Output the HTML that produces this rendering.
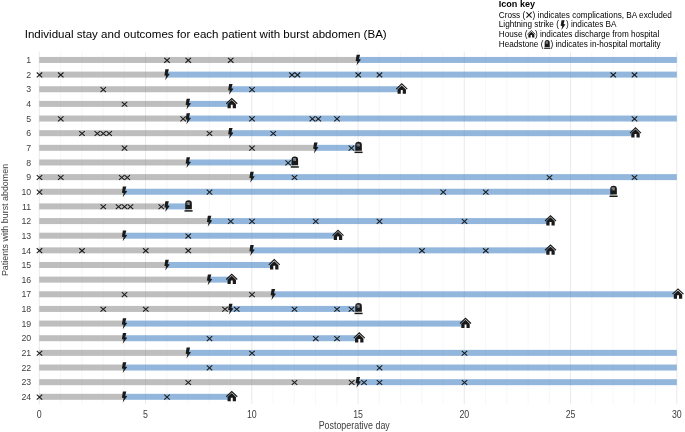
<!DOCTYPE html>
<html><head><meta charset="utf-8"><title>Burst abdomen</title>
<style>
html,body{margin:0;padding:0;background:#fff;}
body{width:685px;height:432px;overflow:hidden;}
svg{display:block;}
text{font-family:"Liberation Sans",Arial,sans-serif;}
</style></head>
<body>
<svg width="685" height="432" viewBox="0 0 685 432">
<rect width="685" height="432" fill="#fff"/>
<line x1="39.3" y1="51.4" x2="39.3" y2="404.3" stroke="#ebebeb" stroke-width="1.07"/>
<line x1="60.55" y1="51.4" x2="60.55" y2="404.3" stroke="#efefef" stroke-width="0.53"/>
<line x1="81.8" y1="51.4" x2="81.8" y2="404.3" stroke="#efefef" stroke-width="0.53"/>
<line x1="103.05" y1="51.4" x2="103.05" y2="404.3" stroke="#efefef" stroke-width="0.53"/>
<line x1="124.3" y1="51.4" x2="124.3" y2="404.3" stroke="#efefef" stroke-width="0.53"/>
<line x1="145.55" y1="51.4" x2="145.55" y2="404.3" stroke="#ebebeb" stroke-width="1.07"/>
<line x1="166.8" y1="51.4" x2="166.8" y2="404.3" stroke="#efefef" stroke-width="0.53"/>
<line x1="188.05" y1="51.4" x2="188.05" y2="404.3" stroke="#efefef" stroke-width="0.53"/>
<line x1="209.3" y1="51.4" x2="209.3" y2="404.3" stroke="#efefef" stroke-width="0.53"/>
<line x1="230.55" y1="51.4" x2="230.55" y2="404.3" stroke="#efefef" stroke-width="0.53"/>
<line x1="251.8" y1="51.4" x2="251.8" y2="404.3" stroke="#ebebeb" stroke-width="1.07"/>
<line x1="273.05" y1="51.4" x2="273.05" y2="404.3" stroke="#efefef" stroke-width="0.53"/>
<line x1="294.3" y1="51.4" x2="294.3" y2="404.3" stroke="#efefef" stroke-width="0.53"/>
<line x1="315.55" y1="51.4" x2="315.55" y2="404.3" stroke="#efefef" stroke-width="0.53"/>
<line x1="336.8" y1="51.4" x2="336.8" y2="404.3" stroke="#efefef" stroke-width="0.53"/>
<line x1="358.05" y1="51.4" x2="358.05" y2="404.3" stroke="#ebebeb" stroke-width="1.07"/>
<line x1="379.3" y1="51.4" x2="379.3" y2="404.3" stroke="#efefef" stroke-width="0.53"/>
<line x1="400.55" y1="51.4" x2="400.55" y2="404.3" stroke="#efefef" stroke-width="0.53"/>
<line x1="421.8" y1="51.4" x2="421.8" y2="404.3" stroke="#efefef" stroke-width="0.53"/>
<line x1="443.05" y1="51.4" x2="443.05" y2="404.3" stroke="#efefef" stroke-width="0.53"/>
<line x1="464.3" y1="51.4" x2="464.3" y2="404.3" stroke="#ebebeb" stroke-width="1.07"/>
<line x1="485.55" y1="51.4" x2="485.55" y2="404.3" stroke="#efefef" stroke-width="0.53"/>
<line x1="506.8" y1="51.4" x2="506.8" y2="404.3" stroke="#efefef" stroke-width="0.53"/>
<line x1="528.05" y1="51.4" x2="528.05" y2="404.3" stroke="#efefef" stroke-width="0.53"/>
<line x1="549.3" y1="51.4" x2="549.3" y2="404.3" stroke="#efefef" stroke-width="0.53"/>
<line x1="570.55" y1="51.4" x2="570.55" y2="404.3" stroke="#ebebeb" stroke-width="1.07"/>
<line x1="591.8" y1="51.4" x2="591.8" y2="404.3" stroke="#efefef" stroke-width="0.53"/>
<line x1="613.05" y1="51.4" x2="613.05" y2="404.3" stroke="#efefef" stroke-width="0.53"/>
<line x1="634.3" y1="51.4" x2="634.3" y2="404.3" stroke="#efefef" stroke-width="0.53"/>
<line x1="655.55" y1="51.4" x2="655.55" y2="404.3" stroke="#efefef" stroke-width="0.53"/>
<line x1="676.8" y1="51.4" x2="676.8" y2="404.3" stroke="#ebebeb" stroke-width="1.07"/>
<rect x="39.3" y="56.95" width="318.75" height="6" fill="#7d7d7d" fill-opacity="0.5"/>
<rect x="358.05" y="56.95" width="318.75" height="6" fill="#4b87c5" fill-opacity="0.6"/>
<rect x="39.3" y="71.6" width="127.5" height="6" fill="#7d7d7d" fill-opacity="0.5"/>
<rect x="166.8" y="71.6" width="510" height="6" fill="#4b87c5" fill-opacity="0.6"/>
<rect x="39.3" y="86.24" width="191.25" height="6" fill="#7d7d7d" fill-opacity="0.5"/>
<rect x="230.55" y="86.24" width="170" height="6" fill="#4b87c5" fill-opacity="0.6"/>
<rect x="39.3" y="100.89" width="148.75" height="6" fill="#7d7d7d" fill-opacity="0.5"/>
<rect x="188.05" y="100.89" width="42.5" height="6" fill="#4b87c5" fill-opacity="0.6"/>
<rect x="39.3" y="115.53" width="148.75" height="6" fill="#7d7d7d" fill-opacity="0.5"/>
<rect x="188.05" y="115.53" width="488.75" height="6" fill="#4b87c5" fill-opacity="0.6"/>
<rect x="39.3" y="130.18" width="191.25" height="6" fill="#7d7d7d" fill-opacity="0.5"/>
<rect x="230.55" y="130.18" width="403.75" height="6" fill="#4b87c5" fill-opacity="0.6"/>
<rect x="39.3" y="144.83" width="276.25" height="6" fill="#7d7d7d" fill-opacity="0.5"/>
<rect x="315.55" y="144.83" width="42.5" height="6" fill="#4b87c5" fill-opacity="0.6"/>
<rect x="39.3" y="159.47" width="148.75" height="6" fill="#7d7d7d" fill-opacity="0.5"/>
<rect x="188.05" y="159.47" width="106.25" height="6" fill="#4b87c5" fill-opacity="0.6"/>
<rect x="39.3" y="174.12" width="212.5" height="6" fill="#7d7d7d" fill-opacity="0.5"/>
<rect x="251.8" y="174.12" width="425" height="6" fill="#4b87c5" fill-opacity="0.6"/>
<rect x="39.3" y="188.76" width="85" height="6" fill="#7d7d7d" fill-opacity="0.5"/>
<rect x="124.3" y="188.76" width="488.75" height="6" fill="#4b87c5" fill-opacity="0.6"/>
<rect x="39.3" y="203.41" width="127.5" height="6" fill="#7d7d7d" fill-opacity="0.5"/>
<rect x="166.8" y="203.41" width="21.25" height="6" fill="#4b87c5" fill-opacity="0.6"/>
<rect x="39.3" y="218.06" width="170" height="6" fill="#7d7d7d" fill-opacity="0.5"/>
<rect x="209.3" y="218.06" width="340" height="6" fill="#4b87c5" fill-opacity="0.6"/>
<rect x="39.3" y="232.7" width="85" height="6" fill="#7d7d7d" fill-opacity="0.5"/>
<rect x="124.3" y="232.7" width="212.5" height="6" fill="#4b87c5" fill-opacity="0.6"/>
<rect x="39.3" y="247.35" width="212.5" height="6" fill="#7d7d7d" fill-opacity="0.5"/>
<rect x="251.8" y="247.35" width="297.5" height="6" fill="#4b87c5" fill-opacity="0.6"/>
<rect x="39.3" y="261.99" width="127.5" height="6" fill="#7d7d7d" fill-opacity="0.5"/>
<rect x="166.8" y="261.99" width="106.25" height="6" fill="#4b87c5" fill-opacity="0.6"/>
<rect x="39.3" y="276.64" width="170" height="6" fill="#7d7d7d" fill-opacity="0.5"/>
<rect x="209.3" y="276.64" width="21.25" height="6" fill="#4b87c5" fill-opacity="0.6"/>
<rect x="39.3" y="291.29" width="233.75" height="6" fill="#7d7d7d" fill-opacity="0.5"/>
<rect x="273.05" y="291.29" width="403.75" height="6" fill="#4b87c5" fill-opacity="0.6"/>
<rect x="39.3" y="305.93" width="191.25" height="6" fill="#7d7d7d" fill-opacity="0.5"/>
<rect x="230.55" y="305.93" width="127.5" height="6" fill="#4b87c5" fill-opacity="0.6"/>
<rect x="39.3" y="320.58" width="85" height="6" fill="#7d7d7d" fill-opacity="0.5"/>
<rect x="124.3" y="320.58" width="340" height="6" fill="#4b87c5" fill-opacity="0.6"/>
<rect x="39.3" y="335.22" width="85" height="6" fill="#7d7d7d" fill-opacity="0.5"/>
<rect x="124.3" y="335.22" width="233.75" height="6" fill="#4b87c5" fill-opacity="0.6"/>
<rect x="39.3" y="349.87" width="148.75" height="6" fill="#7d7d7d" fill-opacity="0.5"/>
<rect x="188.05" y="349.87" width="488.75" height="6" fill="#4b87c5" fill-opacity="0.6"/>
<rect x="39.3" y="364.52" width="85" height="6" fill="#7d7d7d" fill-opacity="0.5"/>
<rect x="124.3" y="364.52" width="552.5" height="6" fill="#4b87c5" fill-opacity="0.6"/>
<rect x="39.3" y="379.16" width="318.75" height="6" fill="#7d7d7d" fill-opacity="0.5"/>
<rect x="358.05" y="379.16" width="318.75" height="6" fill="#4b87c5" fill-opacity="0.6"/>
<rect x="39.3" y="393.81" width="85" height="6" fill="#7d7d7d" fill-opacity="0.5"/>
<rect x="124.3" y="393.81" width="106.25" height="6" fill="#4b87c5" fill-opacity="0.6"/>
<path d="M164.25 57.85L169.75 62.75M164.25 62.75L169.75 57.85" stroke="#1a1a1a" stroke-width="1.05" fill="none"/>
<path d="M185.5 57.85L191 62.75M185.5 62.75L191 57.85" stroke="#1a1a1a" stroke-width="1.05" fill="none"/>
<path d="M228 57.85L233.5 62.75M228 62.75L233.5 57.85" stroke="#1a1a1a" stroke-width="1.05" fill="none"/>
<polygon points="356.6,54.7 360.1,54.7 358.95,58.9 360.95,59.45 356.45,65.55 357.4,61.2 355.65,60.9" fill="#1a1a1a"/>
<path d="M36.75 72.5L42.25 77.4M36.75 77.4L42.25 72.5" stroke="#1a1a1a" stroke-width="1.05" fill="none"/>
<path d="M58 72.5L63.5 77.4M58 77.4L63.5 72.5" stroke="#1a1a1a" stroke-width="1.05" fill="none"/>
<path d="M289.2 72.5L294.7 77.4M289.2 77.4L294.7 72.5" stroke="#1a1a1a" stroke-width="1.05" fill="none"/>
<path d="M294.73 72.5L300.23 77.4M294.73 77.4L300.23 72.5" stroke="#1a1a1a" stroke-width="1.05" fill="none"/>
<path d="M355.5 72.5L361 77.4M355.5 77.4L361 72.5" stroke="#1a1a1a" stroke-width="1.05" fill="none"/>
<path d="M376.75 72.5L382.25 77.4M376.75 77.4L382.25 72.5" stroke="#1a1a1a" stroke-width="1.05" fill="none"/>
<path d="M610.5 72.5L616 77.4M610.5 77.4L616 72.5" stroke="#1a1a1a" stroke-width="1.05" fill="none"/>
<path d="M631.75 72.5L637.25 77.4M631.75 77.4L637.25 72.5" stroke="#1a1a1a" stroke-width="1.05" fill="none"/>
<polygon points="165.35,69.35 168.85,69.35 167.7,73.55 169.7,74.1 165.2,80.2 166.15,75.85 164.4,75.55" fill="#1a1a1a"/>
<path d="M100.5 87.14L106 92.04M100.5 92.04L106 87.14" stroke="#1a1a1a" stroke-width="1.05" fill="none"/>
<path d="M249.25 87.14L254.75 92.04M249.25 92.04L254.75 87.14" stroke="#1a1a1a" stroke-width="1.05" fill="none"/>
<polygon points="229.1,83.99 232.6,83.99 231.45,88.19 233.45,88.74 228.95,94.84 229.9,90.49 228.15,90.19" fill="#1a1a1a"/>
<path d="M396.25 89.14L401.75 83.89L407.25 89.14" stroke="#1a1a1a" stroke-width="1.15" fill="none"/><path d="M397.55 93.64L397.55 89.4L401.75 85.39L405.95 89.4L405.95 93.64L402.75 93.64L402.75 90.09L400.75 90.09L400.75 93.64Z" fill="#1a1a1a"/>
<path d="M121.75 101.79L127.25 106.69M121.75 106.69L127.25 101.79" stroke="#1a1a1a" stroke-width="1.05" fill="none"/>
<polygon points="186.6,98.64 190.1,98.64 188.95,102.84 190.95,103.39 186.45,109.49 187.4,105.14 185.65,104.84" fill="#1a1a1a"/>
<path d="M226.25 103.79L231.75 98.54L237.25 103.79" stroke="#1a1a1a" stroke-width="1.15" fill="none"/><path d="M227.55 108.29L227.55 104.05L231.75 100.04L235.95 104.05L235.95 108.29L232.75 108.29L232.75 104.74L230.75 104.74L230.75 108.29Z" fill="#1a1a1a"/>
<path d="M58 116.43L63.5 121.33M58 121.33L63.5 116.43" stroke="#1a1a1a" stroke-width="1.05" fill="none"/>
<path d="M180.4 116.43L185.9 121.33M180.4 121.33L185.9 116.43" stroke="#1a1a1a" stroke-width="1.05" fill="none"/>
<path d="M249.25 116.43L254.75 121.33M249.25 121.33L254.75 116.43" stroke="#1a1a1a" stroke-width="1.05" fill="none"/>
<path d="M309.6 116.43L315.1 121.33M309.6 121.33L315.1 116.43" stroke="#1a1a1a" stroke-width="1.05" fill="none"/>
<path d="M315.55 116.43L321.05 121.33M315.55 121.33L321.05 116.43" stroke="#1a1a1a" stroke-width="1.05" fill="none"/>
<path d="M334.25 116.43L339.75 121.33M334.25 121.33L339.75 116.43" stroke="#1a1a1a" stroke-width="1.05" fill="none"/>
<path d="M631.75 116.43L637.25 121.33M631.75 121.33L637.25 116.43" stroke="#1a1a1a" stroke-width="1.05" fill="none"/>
<polygon points="186.6,113.28 190.1,113.28 188.95,117.48 190.95,118.03 186.45,124.13 187.4,119.78 185.65,119.48" fill="#1a1a1a"/>
<path d="M79.25 131.08L84.75 135.98M79.25 135.98L84.75 131.08" stroke="#1a1a1a" stroke-width="1.05" fill="none"/>
<path d="M94.55 131.08L100.05 135.98M94.55 135.98L100.05 131.08" stroke="#1a1a1a" stroke-width="1.05" fill="none"/>
<path d="M100.5 131.08L106 135.98M100.5 135.98L106 131.08" stroke="#1a1a1a" stroke-width="1.05" fill="none"/>
<path d="M106.45 131.08L111.95 135.98M106.45 135.98L111.95 131.08" stroke="#1a1a1a" stroke-width="1.05" fill="none"/>
<path d="M206.75 131.08L212.25 135.98M206.75 135.98L212.25 131.08" stroke="#1a1a1a" stroke-width="1.05" fill="none"/>
<path d="M270.5 131.08L276 135.98M270.5 135.98L276 131.08" stroke="#1a1a1a" stroke-width="1.05" fill="none"/>
<polygon points="229.1,127.93 232.6,127.93 231.45,132.13 233.45,132.68 228.95,138.78 229.9,134.43 228.15,134.13" fill="#1a1a1a"/>
<path d="M630 133.08L635.5 127.83L641 133.08" stroke="#1a1a1a" stroke-width="1.15" fill="none"/><path d="M631.3 137.58L631.3 133.34L635.5 129.33L639.7 133.34L639.7 137.58L636.5 137.58L636.5 134.03L634.5 134.03L634.5 137.58Z" fill="#1a1a1a"/>
<path d="M121.75 145.73L127.25 150.63M121.75 150.63L127.25 145.73" stroke="#1a1a1a" stroke-width="1.05" fill="none"/>
<path d="M249.25 145.73L254.75 150.63M249.25 150.63L254.75 145.73" stroke="#1a1a1a" stroke-width="1.05" fill="none"/>
<path d="M348.7 145.73L354.2 150.63M348.7 150.63L354.2 145.73" stroke="#1a1a1a" stroke-width="1.05" fill="none"/>
<polygon points="314.1,142.58 317.6,142.58 316.45,146.78 318.45,147.33 313.95,153.43 314.9,149.08 313.15,148.78" fill="#1a1a1a"/>
<path fill-rule="evenodd" d="M355.25 150.63L355.25 145.08A3.3 3.3 0 0 1 361.85 145.08L361.85 150.63ZM356.75 143.63L359.55 143.63L359.55 146.33L356.75 146.33Z" fill="#1a1a1a"/><rect x="356.75" y="143.63" width="2.8" height="2.7" fill="#1a1a1a" fill-opacity="0.55"/><rect x="354.5" y="151.58" width="8.1" height="1.5" fill="#1a1a1a"/>
<path d="M285.37 160.37L290.87 165.27M285.37 165.27L290.87 160.37" stroke="#1a1a1a" stroke-width="1.05" fill="none"/>
<polygon points="186.6,157.22 190.1,157.22 188.95,161.42 190.95,161.97 186.45,168.07 187.4,163.72 185.65,163.42" fill="#1a1a1a"/>
<path fill-rule="evenodd" d="M291.5 165.27L291.5 159.72A3.3 3.3 0 0 1 298.1 159.72L298.1 165.27ZM293 158.27L295.8 158.27L295.8 160.97L293 160.97Z" fill="#1a1a1a"/><rect x="293" y="158.27" width="2.8" height="2.7" fill="#1a1a1a" fill-opacity="0.55"/><rect x="290.75" y="166.22" width="8.1" height="1.5" fill="#1a1a1a"/>
<path d="M36.75 175.02L42.25 179.92M36.75 179.92L42.25 175.02" stroke="#1a1a1a" stroke-width="1.05" fill="none"/>
<path d="M58 175.02L63.5 179.92M58 179.92L63.5 175.02" stroke="#1a1a1a" stroke-width="1.05" fill="none"/>
<path d="M118.99 175.02L124.49 179.92M118.99 179.92L124.49 175.02" stroke="#1a1a1a" stroke-width="1.05" fill="none"/>
<path d="M124.51 175.02L130.01 179.92M124.51 179.92L130.01 175.02" stroke="#1a1a1a" stroke-width="1.05" fill="none"/>
<path d="M291.75 175.02L297.25 179.92M291.75 179.92L297.25 175.02" stroke="#1a1a1a" stroke-width="1.05" fill="none"/>
<path d="M546.75 175.02L552.25 179.92M546.75 179.92L552.25 175.02" stroke="#1a1a1a" stroke-width="1.05" fill="none"/>
<path d="M631.75 175.02L637.25 179.92M631.75 179.92L637.25 175.02" stroke="#1a1a1a" stroke-width="1.05" fill="none"/>
<polygon points="250.35,171.87 253.85,171.87 252.7,176.07 254.7,176.62 250.2,182.72 251.15,178.37 249.4,178.07" fill="#1a1a1a"/>
<path d="M36.75 189.66L42.25 194.56M36.75 194.56L42.25 189.66" stroke="#1a1a1a" stroke-width="1.05" fill="none"/>
<path d="M206.75 189.66L212.25 194.56M206.75 194.56L212.25 189.66" stroke="#1a1a1a" stroke-width="1.05" fill="none"/>
<path d="M440.5 189.66L446 194.56M440.5 194.56L446 189.66" stroke="#1a1a1a" stroke-width="1.05" fill="none"/>
<path d="M483 189.66L488.5 194.56M483 194.56L488.5 189.66" stroke="#1a1a1a" stroke-width="1.05" fill="none"/>
<polygon points="122.85,186.51 126.35,186.51 125.2,190.71 127.2,191.26 122.7,197.36 123.65,193.01 121.9,192.71" fill="#1a1a1a"/>
<path fill-rule="evenodd" d="M610.25 194.56L610.25 189.01A3.3 3.3 0 0 1 616.85 189.01L616.85 194.56ZM611.75 187.56L614.55 187.56L614.55 190.26L611.75 190.26Z" fill="#1a1a1a"/><rect x="611.75" y="187.56" width="2.8" height="2.7" fill="#1a1a1a" fill-opacity="0.55"/><rect x="609.5" y="195.51" width="8.1" height="1.5" fill="#1a1a1a"/>
<path d="M100.5 204.31L106 209.21M100.5 209.21L106 204.31" stroke="#1a1a1a" stroke-width="1.05" fill="none"/>
<path d="M115.8 204.31L121.3 209.21M115.8 209.21L121.3 204.31" stroke="#1a1a1a" stroke-width="1.05" fill="none"/>
<path d="M121.75 204.31L127.25 209.21M121.75 209.21L127.25 204.31" stroke="#1a1a1a" stroke-width="1.05" fill="none"/>
<path d="M127.7 204.31L133.2 209.21M127.7 209.21L133.2 204.31" stroke="#1a1a1a" stroke-width="1.05" fill="none"/>
<path d="M158.51 204.31L164.01 209.21M158.51 209.21L164.01 204.31" stroke="#1a1a1a" stroke-width="1.05" fill="none"/>
<polygon points="165.35,201.16 168.85,201.16 167.7,205.36 169.7,205.91 165.2,212.01 166.15,207.66 164.4,207.36" fill="#1a1a1a"/>
<path fill-rule="evenodd" d="M185.25 209.21L185.25 203.66A3.3 3.3 0 0 1 191.85 203.66L191.85 209.21ZM186.75 202.21L189.55 202.21L189.55 204.91L186.75 204.91Z" fill="#1a1a1a"/><rect x="186.75" y="202.21" width="2.8" height="2.7" fill="#1a1a1a" fill-opacity="0.55"/><rect x="184.5" y="210.16" width="8.1" height="1.5" fill="#1a1a1a"/>
<path d="M228 218.96L233.5 223.86M228 223.86L233.5 218.96" stroke="#1a1a1a" stroke-width="1.05" fill="none"/>
<path d="M249.25 218.96L254.75 223.86M249.25 223.86L254.75 218.96" stroke="#1a1a1a" stroke-width="1.05" fill="none"/>
<path d="M313 218.96L318.5 223.86M313 223.86L318.5 218.96" stroke="#1a1a1a" stroke-width="1.05" fill="none"/>
<path d="M376.75 218.96L382.25 223.86M376.75 223.86L382.25 218.96" stroke="#1a1a1a" stroke-width="1.05" fill="none"/>
<path d="M461.75 218.96L467.25 223.86M461.75 223.86L467.25 218.96" stroke="#1a1a1a" stroke-width="1.05" fill="none"/>
<polygon points="207.85,215.81 211.35,215.81 210.2,220.01 212.2,220.56 207.7,226.66 208.65,222.31 206.9,222.01" fill="#1a1a1a"/>
<path d="M545 220.96L550.5 215.71L556 220.96" stroke="#1a1a1a" stroke-width="1.15" fill="none"/><path d="M546.3 225.46L546.3 221.22L550.5 217.21L554.7 221.22L554.7 225.46L551.5 225.46L551.5 221.91L549.5 221.91L549.5 225.46Z" fill="#1a1a1a"/>
<path d="M185.5 233.6L191 238.5M185.5 238.5L191 233.6" stroke="#1a1a1a" stroke-width="1.05" fill="none"/>
<polygon points="122.85,230.45 126.35,230.45 125.2,234.65 127.2,235.2 122.7,241.3 123.65,236.95 121.9,236.65" fill="#1a1a1a"/>
<path d="M332.5 235.6L338 230.35L343.5 235.6" stroke="#1a1a1a" stroke-width="1.15" fill="none"/><path d="M333.8 240.1L333.8 235.86L338 231.85L342.2 235.86L342.2 240.1L339 240.1L339 236.55L337 236.55L337 240.1Z" fill="#1a1a1a"/>
<path d="M36.75 248.25L42.25 253.15M36.75 253.15L42.25 248.25" stroke="#1a1a1a" stroke-width="1.05" fill="none"/>
<path d="M79.25 248.25L84.75 253.15M79.25 253.15L84.75 248.25" stroke="#1a1a1a" stroke-width="1.05" fill="none"/>
<path d="M143 248.25L148.5 253.15M143 253.15L148.5 248.25" stroke="#1a1a1a" stroke-width="1.05" fill="none"/>
<path d="M185.5 248.25L191 253.15M185.5 253.15L191 248.25" stroke="#1a1a1a" stroke-width="1.05" fill="none"/>
<path d="M419.25 248.25L424.75 253.15M419.25 253.15L424.75 248.25" stroke="#1a1a1a" stroke-width="1.05" fill="none"/>
<path d="M483 248.25L488.5 253.15M483 253.15L488.5 248.25" stroke="#1a1a1a" stroke-width="1.05" fill="none"/>
<polygon points="250.35,245.1 253.85,245.1 252.7,249.3 254.7,249.85 250.2,255.95 251.15,251.6 249.4,251.3" fill="#1a1a1a"/>
<path d="M545 250.25L550.5 245L556 250.25" stroke="#1a1a1a" stroke-width="1.15" fill="none"/><path d="M546.3 254.75L546.3 250.51L550.5 246.5L554.7 250.51L554.7 254.75L551.5 254.75L551.5 251.2L549.5 251.2L549.5 254.75Z" fill="#1a1a1a"/>
<polygon points="165.35,259.74 168.85,259.74 167.7,263.94 169.7,264.49 165.2,270.59 166.15,266.24 164.4,265.94" fill="#1a1a1a"/>
<path d="M268.75 264.89L274.25 259.64L279.75 264.89" stroke="#1a1a1a" stroke-width="1.15" fill="none"/><path d="M270.05 269.39L270.05 265.15L274.25 261.14L278.45 265.15L278.45 269.39L275.25 269.39L275.25 265.84L273.25 265.84L273.25 269.39Z" fill="#1a1a1a"/>
<polygon points="207.85,274.39 211.35,274.39 210.2,278.59 212.2,279.14 207.7,285.24 208.65,280.89 206.9,280.59" fill="#1a1a1a"/>
<path d="M226.25 279.54L231.75 274.29L237.25 279.54" stroke="#1a1a1a" stroke-width="1.15" fill="none"/><path d="M227.55 284.04L227.55 279.8L231.75 275.79L235.95 279.8L235.95 284.04L232.75 284.04L232.75 280.49L230.75 280.49L230.75 284.04Z" fill="#1a1a1a"/>
<path d="M121.75 292.19L127.25 297.09M121.75 297.09L127.25 292.19" stroke="#1a1a1a" stroke-width="1.05" fill="none"/>
<path d="M249.25 292.19L254.75 297.09M249.25 297.09L254.75 292.19" stroke="#1a1a1a" stroke-width="1.05" fill="none"/>
<polygon points="271.6,289.04 275.1,289.04 273.95,293.24 275.95,293.79 271.45,299.89 272.4,295.54 270.65,295.24" fill="#1a1a1a"/>
<path d="M672.5 294.19L678 288.94L683.5 294.19" stroke="#1a1a1a" stroke-width="1.15" fill="none"/><path d="M673.8 298.69L673.8 294.45L678 290.44L682.2 294.45L682.2 298.69L679 298.69L679 295.14L677 295.14L677 298.69Z" fill="#1a1a1a"/>
<path d="M100.5 306.83L106 311.73M100.5 311.73L106 306.83" stroke="#1a1a1a" stroke-width="1.05" fill="none"/>
<path d="M143 306.83L148.5 311.73M143 311.73L148.5 306.83" stroke="#1a1a1a" stroke-width="1.05" fill="none"/>
<path d="M222.26 306.83L227.76 311.73M222.26 311.73L227.76 306.83" stroke="#1a1a1a" stroke-width="1.05" fill="none"/>
<path d="M233.95 306.83L239.45 311.73M233.95 311.73L239.45 306.83" stroke="#1a1a1a" stroke-width="1.05" fill="none"/>
<path d="M291.75 306.83L297.25 311.73M291.75 311.73L297.25 306.83" stroke="#1a1a1a" stroke-width="1.05" fill="none"/>
<path d="M334.25 306.83L339.75 311.73M334.25 311.73L339.75 306.83" stroke="#1a1a1a" stroke-width="1.05" fill="none"/>
<path d="M348.7 306.83L354.2 311.73M348.7 311.73L354.2 306.83" stroke="#1a1a1a" stroke-width="1.05" fill="none"/>
<polygon points="229.1,303.68 232.6,303.68 231.45,307.88 233.45,308.43 228.95,314.53 229.9,310.18 228.15,309.88" fill="#1a1a1a"/>
<path fill-rule="evenodd" d="M355.25 311.73L355.25 306.18A3.3 3.3 0 0 1 361.85 306.18L361.85 311.73ZM356.75 304.73L359.55 304.73L359.55 307.43L356.75 307.43Z" fill="#1a1a1a"/><rect x="356.75" y="304.73" width="2.8" height="2.7" fill="#1a1a1a" fill-opacity="0.55"/><rect x="354.5" y="312.68" width="8.1" height="1.5" fill="#1a1a1a"/>
<polygon points="122.85,318.33 126.35,318.33 125.2,322.53 127.2,323.08 122.7,329.18 123.65,324.83 121.9,324.53" fill="#1a1a1a"/>
<path d="M460 323.48L465.5 318.23L471 323.48" stroke="#1a1a1a" stroke-width="1.15" fill="none"/><path d="M461.3 327.98L461.3 323.74L465.5 319.73L469.7 323.74L469.7 327.98L466.5 327.98L466.5 324.43L464.5 324.43L464.5 327.98Z" fill="#1a1a1a"/>
<path d="M206.75 336.12L212.25 341.02M206.75 341.02L212.25 336.12" stroke="#1a1a1a" stroke-width="1.05" fill="none"/>
<path d="M313 336.12L318.5 341.02M313 341.02L318.5 336.12" stroke="#1a1a1a" stroke-width="1.05" fill="none"/>
<path d="M334.25 336.12L339.75 341.02M334.25 341.02L339.75 336.12" stroke="#1a1a1a" stroke-width="1.05" fill="none"/>
<polygon points="122.85,332.97 126.35,332.97 125.2,337.17 127.2,337.72 122.7,343.82 123.65,339.47 121.9,339.17" fill="#1a1a1a"/>
<path d="M353.75 338.12L359.25 332.87L364.75 338.12" stroke="#1a1a1a" stroke-width="1.15" fill="none"/><path d="M355.05 342.62L355.05 338.38L359.25 334.37L363.45 338.38L363.45 342.62L360.25 342.62L360.25 339.07L358.25 339.07L358.25 342.62Z" fill="#1a1a1a"/>
<path d="M36.75 350.77L42.25 355.67M36.75 355.67L42.25 350.77" stroke="#1a1a1a" stroke-width="1.05" fill="none"/>
<path d="M249.25 350.77L254.75 355.67M249.25 355.67L254.75 350.77" stroke="#1a1a1a" stroke-width="1.05" fill="none"/>
<path d="M461.75 350.77L467.25 355.67M461.75 355.67L467.25 350.77" stroke="#1a1a1a" stroke-width="1.05" fill="none"/>
<polygon points="186.6,347.62 190.1,347.62 188.95,351.82 190.95,352.37 186.45,358.47 187.4,354.12 185.65,353.82" fill="#1a1a1a"/>
<path d="M206.75 365.42L212.25 370.32M206.75 370.32L212.25 365.42" stroke="#1a1a1a" stroke-width="1.05" fill="none"/>
<path d="M376.75 365.42L382.25 370.32M376.75 370.32L382.25 365.42" stroke="#1a1a1a" stroke-width="1.05" fill="none"/>
<polygon points="122.85,362.27 126.35,362.27 125.2,366.47 127.2,367.02 122.7,373.12 123.65,368.77 121.9,368.47" fill="#1a1a1a"/>
<path d="M185.5 380.06L191 384.96M185.5 384.96L191 380.06" stroke="#1a1a1a" stroke-width="1.05" fill="none"/>
<path d="M291.75 380.06L297.25 384.96M291.75 384.96L297.25 380.06" stroke="#1a1a1a" stroke-width="1.05" fill="none"/>
<path d="M348.91 380.06L354.41 384.96M348.91 384.96L354.41 380.06" stroke="#1a1a1a" stroke-width="1.05" fill="none"/>
<path d="M361.24 380.06L366.74 384.96M361.24 384.96L366.74 380.06" stroke="#1a1a1a" stroke-width="1.05" fill="none"/>
<path d="M376.75 380.06L382.25 384.96M376.75 384.96L382.25 380.06" stroke="#1a1a1a" stroke-width="1.05" fill="none"/>
<path d="M461.75 380.06L467.25 384.96M461.75 384.96L467.25 380.06" stroke="#1a1a1a" stroke-width="1.05" fill="none"/>
<polygon points="356.6,376.91 360.1,376.91 358.95,381.11 360.95,381.66 356.45,387.76 357.4,383.41 355.65,383.11" fill="#1a1a1a"/>
<path d="M36.75 394.71L42.25 399.61M36.75 399.61L42.25 394.71" stroke="#1a1a1a" stroke-width="1.05" fill="none"/>
<path d="M164.25 394.71L169.75 399.61M164.25 399.61L169.75 394.71" stroke="#1a1a1a" stroke-width="1.05" fill="none"/>
<polygon points="122.85,391.56 126.35,391.56 125.2,395.76 127.2,396.31 122.7,402.41 123.65,398.06 121.9,397.76" fill="#1a1a1a"/>
<path d="M226.25 396.71L231.75 391.46L237.25 396.71" stroke="#1a1a1a" stroke-width="1.15" fill="none"/><path d="M227.55 401.21L227.55 396.97L231.75 392.96L235.95 396.97L235.95 401.21L232.75 401.21L232.75 397.66L230.75 397.66L230.75 401.21Z" fill="#1a1a1a"/>
<text transform="translate(31.2,63.1) scale(1,1.1)" text-anchor="end" font-size="8.8" fill="#404040">1</text>
<text transform="translate(31.2,77.75) scale(1,1.1)" text-anchor="end" font-size="8.8" fill="#404040">2</text>
<text transform="translate(31.2,92.39) scale(1,1.1)" text-anchor="end" font-size="8.8" fill="#404040">3</text>
<text transform="translate(31.2,107.04) scale(1,1.1)" text-anchor="end" font-size="8.8" fill="#404040">4</text>
<text transform="translate(31.2,121.68) scale(1,1.1)" text-anchor="end" font-size="8.8" fill="#404040">5</text>
<text transform="translate(31.2,136.33) scale(1,1.1)" text-anchor="end" font-size="8.8" fill="#404040">6</text>
<text transform="translate(31.2,150.98) scale(1,1.1)" text-anchor="end" font-size="8.8" fill="#404040">7</text>
<text transform="translate(31.2,165.62) scale(1,1.1)" text-anchor="end" font-size="8.8" fill="#404040">8</text>
<text transform="translate(31.2,180.27) scale(1,1.1)" text-anchor="end" font-size="8.8" fill="#404040">9</text>
<text transform="translate(31.2,194.91) scale(1,1.1)" text-anchor="end" font-size="8.8" fill="#404040">10</text>
<text transform="translate(31.2,209.56) scale(1,1.1)" text-anchor="end" font-size="8.8" fill="#404040">11</text>
<text transform="translate(31.2,224.21) scale(1,1.1)" text-anchor="end" font-size="8.8" fill="#404040">12</text>
<text transform="translate(31.2,238.85) scale(1,1.1)" text-anchor="end" font-size="8.8" fill="#404040">13</text>
<text transform="translate(31.2,253.5) scale(1,1.1)" text-anchor="end" font-size="8.8" fill="#404040">14</text>
<text transform="translate(31.2,268.14) scale(1,1.1)" text-anchor="end" font-size="8.8" fill="#404040">15</text>
<text transform="translate(31.2,282.79) scale(1,1.1)" text-anchor="end" font-size="8.8" fill="#404040">16</text>
<text transform="translate(31.2,297.44) scale(1,1.1)" text-anchor="end" font-size="8.8" fill="#404040">17</text>
<text transform="translate(31.2,312.08) scale(1,1.1)" text-anchor="end" font-size="8.8" fill="#404040">18</text>
<text transform="translate(31.2,326.73) scale(1,1.1)" text-anchor="end" font-size="8.8" fill="#404040">19</text>
<text transform="translate(31.2,341.37) scale(1,1.1)" text-anchor="end" font-size="8.8" fill="#404040">20</text>
<text transform="translate(31.2,356.02) scale(1,1.1)" text-anchor="end" font-size="8.8" fill="#404040">21</text>
<text transform="translate(31.2,370.67) scale(1,1.1)" text-anchor="end" font-size="8.8" fill="#404040">22</text>
<text transform="translate(31.2,385.31) scale(1,1.1)" text-anchor="end" font-size="8.8" fill="#404040">23</text>
<text transform="translate(31.2,399.96) scale(1,1.1)" text-anchor="end" font-size="8.8" fill="#404040">24</text>
<text transform="translate(39.3,417.9) scale(1,1.15)" text-anchor="middle" font-size="8.8" fill="#404040">0</text>
<text transform="translate(145.55,417.9) scale(1,1.15)" text-anchor="middle" font-size="8.8" fill="#404040">5</text>
<text transform="translate(251.8,417.9) scale(1,1.15)" text-anchor="middle" font-size="8.8" fill="#404040">10</text>
<text transform="translate(358.05,417.9) scale(1,1.15)" text-anchor="middle" font-size="8.8" fill="#404040">15</text>
<text transform="translate(464.3,417.9) scale(1,1.15)" text-anchor="middle" font-size="8.8" fill="#404040">20</text>
<text transform="translate(570.55,417.9) scale(1,1.15)" text-anchor="middle" font-size="8.8" fill="#404040">25</text>
<text transform="translate(676.8,417.9) scale(1,1.15)" text-anchor="middle" font-size="8.8" fill="#404040">30</text>
<text transform="translate(354.2,428.6) scale(1,1.15)" text-anchor="middle" font-size="8.9" fill="#3d3d3d">Postoperative day</text>
<text transform="translate(7.9,220) rotate(-90) scale(1,1.1)" text-anchor="middle" font-size="8.9" fill="#3d3d3d">Patients with burst abdomen</text>
<text x="24.7" y="38.1" font-size="11.55" fill="#000">Individual stay and outcomes for each patient with burst abdomen (BA)</text>
<text x="498.8" y="7.2" font-size="9.05" font-weight="bold" fill="#000">Icon key</text>
<text x="498.8" y="17.65" font-size="8.2" fill="#000">Cross (</text>
<text x="532.6" y="17.65" font-size="8.2" fill="#000">) indicates complications, BA excluded</text>
<path d="M526.4 12.35L531.6 17.55M526.4 17.55L531.6 12.35" stroke="#1a1a1a" stroke-width="1.15" fill="none"/>
<text x="498.8" y="27.45" font-size="8.2" fill="#000">Lightning strike (</text>
<text x="566.0" y="27.45" font-size="8.2" fill="#000">) indicates BA</text>
<polygon points="561.51,20.23 564.62,20.23 563.6,23.97 565.38,24.45 561.38,29.88 562.22,26.01 560.66,25.75" fill="#1a1a1a"/>
<text x="498.8" y="37.25" font-size="8.2" fill="#000">House (</text>
<text x="535.0" y="37.25" font-size="8.2" fill="#000">) indicates discharge from hospital</text>
<path d="M527.39 34.33L531.35 30.55L535.31 34.33" stroke="#1a1a1a" stroke-width="0.83" fill="none"/><path d="M528.33 37.57L528.33 34.52L531.35 31.63L534.37 34.52L534.37 37.57L532.07 37.57L532.07 35.01L530.63 35.01L530.63 37.57Z" fill="#1a1a1a"/>
<text x="498.8" y="47.05" font-size="8.2" fill="#000">Headstone (</text>
<text x="550.5" y="47.05" font-size="8.2" fill="#000">) indicates in-hospital mortality</text>
<path fill-rule="evenodd" d="M544.66 46.91L544.66 42.63A2.54 2.54 0 0 1 549.74 42.63L549.74 46.91ZM545.81 41.52L547.97 41.52L547.97 43.59L545.81 43.59Z" fill="#1a1a1a"/><rect x="545.81" y="41.52" width="2.16" height="2.08" fill="#1a1a1a" fill-opacity="0.55"/><rect x="544.08" y="47.64" width="6.24" height="1.16" fill="#1a1a1a"/>
</svg>
</body></html>
